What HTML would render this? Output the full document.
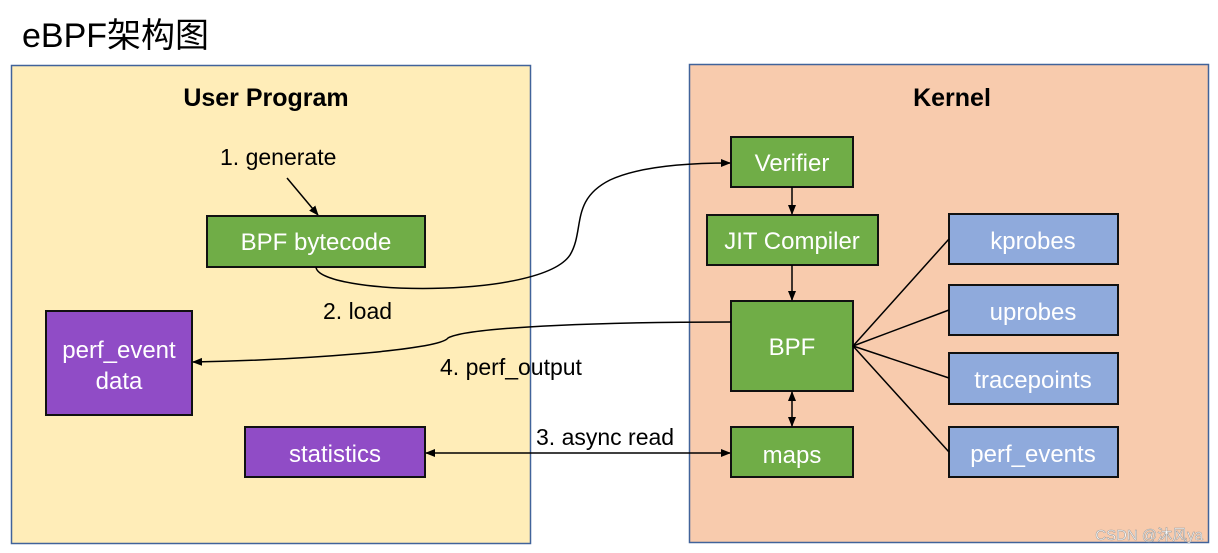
<!DOCTYPE html>
<html><head><meta charset="utf-8"><style>
html,body{margin:0;padding:0;background:#fff;}
svg{display:block;font-family:"Liberation Sans","Noto Sans CJK SC",sans-serif;}
</style></head><body>
<svg width="1218" height="553" viewBox="0 0 1218 553" xmlns="http://www.w3.org/2000/svg">
<defs>
<marker id="ah" markerWidth="10" markerHeight="10" refX="9" refY="5" orient="auto" markerUnits="userSpaceOnUse">
<path d="M0,1 L10,5 L0,9 Z" fill="#000"/></marker>
<marker id="ahs" markerWidth="10" markerHeight="10" refX="1" refY="5" orient="auto" markerUnits="userSpaceOnUse">
<path d="M10,1 L0,5 L10,9 Z" fill="#000"/></marker>
</defs>
<text x="22" y="47" font-size="34" fill="#000">eBPF架构图</text>
<rect x="11.5" y="65.5" width="519" height="478" fill="#FFEDB8" stroke="#41639A" stroke-width="1.5"/>
<rect x="689.5" y="64.5" width="519" height="478" fill="#F8CBAD" stroke="#41639A" stroke-width="1.5"/>
<text x="266" y="106" font-size="25" font-weight="bold" text-anchor="middle">User Program</text>
<text x="952" y="106" font-size="25" font-weight="bold" text-anchor="middle">Kernel</text>
<text x="220" y="165" font-size="23">1. generate</text>
<line x1="287" y1="178" x2="318" y2="215" stroke="#000" stroke-width="1.5" marker-end="url(#ah)"/>
<g stroke="#111" stroke-width="2">
<rect x="207" y="216" width="218" height="51" fill="#70AD47"/>
<rect x="46" y="311" width="146" height="104" fill="#904CC6"/>
<rect x="245" y="427" width="180" height="50" fill="#904CC6"/>
<rect x="731" y="137" width="122" height="50" fill="#70AD47"/>
<rect x="707" y="215" width="171" height="50" fill="#70AD47"/>
<rect x="731" y="301" width="122" height="90" fill="#70AD47"/>
<rect x="731" y="427" width="122" height="50" fill="#70AD47"/>
<rect x="949" y="214" width="169" height="50" fill="#8FAADC"/>
<rect x="949" y="285" width="169" height="50" fill="#8FAADC"/>
<rect x="949" y="353" width="169" height="51" fill="#8FAADC"/>
<rect x="949" y="427" width="169" height="50" fill="#8FAADC"/>
</g>
<g fill="#fff" font-size="24" text-anchor="middle">
<text x="316" y="250">BPF bytecode</text>
<text x="119" y="358">perf_event</text>
<text x="119" y="389">data</text>
<text x="335" y="462">statistics</text>
<text x="792" y="171">Verifier</text>
<text x="792" y="249">JIT Compiler</text>
<text x="792" y="355">BPF</text>
<text x="792" y="463">maps</text>
<text x="1033" y="249">kprobes</text>
<text x="1033" y="320">uprobes</text>
<text x="1033" y="388">tracepoints</text>
<text x="1033" y="462">perf_events</text>
</g>
<g stroke="#000" stroke-width="1.5" fill="none">
<path d="M316,267 C318,295 540,300 570,255 C585,230 570,200 610,180 C640,166 690,163 730,163" marker-end="url(#ah)"/>
<path d="M731,322 C620,322 470,326 448,338 C440,350 300,360 193,362" marker-end="url(#ah)"/>
<line x1="792" y1="187" x2="792" y2="214" marker-end="url(#ah)"/>
<line x1="792" y1="265" x2="792" y2="300" marker-end="url(#ah)"/>
<line x1="792" y1="392" x2="792" y2="426" marker-start="url(#ahs)" marker-end="url(#ah)"/>
<line x1="426" y1="453" x2="730" y2="453" marker-start="url(#ahs)" marker-end="url(#ah)"/>
<line x1="853" y1="346" x2="949" y2="239"/>
<line x1="853" y1="346" x2="949" y2="310"/>
<line x1="853" y1="346" x2="949" y2="378"/>
<line x1="853" y1="346" x2="949" y2="452"/>
</g>
<text x="323" y="319" font-size="23">2. load</text>
<text x="440" y="375" font-size="23">4. perf_output</text>
<text x="536" y="445" font-size="23">3. async read</text>
<text x="1203" y="540" font-size="15" text-anchor="end" fill="#fff" stroke="#999" stroke-width="0.5">CSDN @沐风ya</text>
</svg>
</body></html>
